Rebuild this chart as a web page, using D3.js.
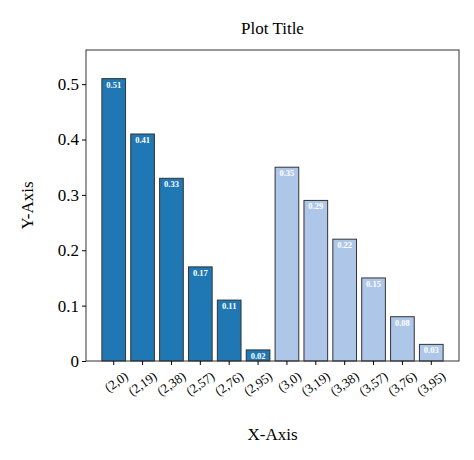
<!DOCTYPE html>
<html><head><meta charset="utf-8">
<script src="https://cdn.jsdelivr.net/npm/d3@7"></script>
<style>body{margin:0;background:#fff}text{font-family:"Liberation Serif",serif}</style>
</head><body><svg id="chart" width="474" height="460"></svg>
<script>
var categories = ["(2,0)","(2,19)","(2,38)","(2,57)","(2,76)","(2,95)","(3,0)","(3,19)","(3,38)","(3,57)","(3,76)","(3,95)"];
var values = [0.51,0.41,0.33,0.17,0.11,0.02,0.35,0.29,0.22,0.15,0.08,0.03];
var groups = ["2","2","2","2","2","2","3","3","3","3","3","3"];
var yTicks = [0,0.1,0.2,0.3,0.4,0.5];

var svg = d3.select("#chart");
var mLeft = 86, mRight = 459, mTop = 50, mBottom = 361;

var x = d3.scaleBand().domain(categories).range([mLeft, mRight]).paddingInner(0.18).paddingOuter(0.55);
var y = d3.scaleLinear().domain([0, 0.5617]).range([mBottom, mTop]);
var color = d3.scaleOrdinal().domain(["2","3"]).range(["#1f77b4","#aec7e8"]);

// bars
svg.selectAll("rect.bar").data(values).enter().append("rect")
    .attr("x", function(d, i){ return x(categories[i]); })
    .attr("y", function(d){ return y(d); })
    .attr("width", x.bandwidth())
    .attr("height", function(d){ return mBottom - y(d); })
    .attr("fill", function(d, i){ return color(groups[i]); })
    .attr("stroke", "#333").attr("stroke-width", 1);

// value labels
svg.selectAll("text.val").data(values).enter().append("text")
    .attr("x", function(d, i){ return x(categories[i]) + x.bandwidth()/2; })
    .attr("y", function(d){ return y(d) + 9; })
    .attr("text-anchor", "middle").attr("font-size", "8.5px").attr("font-weight", "bold")
    .attr("fill", "white")
    .text(function(d){ return d.toFixed(2); });

// frame
svg.append("rect").attr("x", mLeft).attr("y", mTop).attr("width", mRight-mLeft).attr("height", mBottom-mTop)
    .attr("fill", "none").attr("stroke", "#333").attr("stroke-width", 1);

// y axis
var ya = svg.append("g").attr("transform", "translate(" + mLeft + ",0)")
    .call(d3.axisLeft(y).tickValues(yTicks).tickSize(4).tickFormat(function(d){ return d === 0 ? "0" : d3.format(".1f")(d); }));
ya.select(".domain").remove();
ya.selectAll("text").attr("font-size", "17px").attr("fill", "#000").attr("font-family", "Liberation Serif");

// x axis
var xa = svg.append("g").attr("transform", "translate(0," + mBottom + ")")
    .call(d3.axisBottom(x).tickSize(4));
xa.select(".domain").remove();
xa.selectAll("text").attr("font-size", "13px").attr("fill", "#000").attr("font-family", "Liberation Serif")
    .attr("text-anchor", "end").attr("transform", "translate(6,4) rotate(-35)").attr("dy", "0.71em");

svg.append("text").attr("x", (mLeft+mRight)/2).attr("y", 34).attr("text-anchor", "middle")
    .attr("font-size", "17px").text("Plot Title");
svg.append("text").attr("x", (mLeft+mRight)/2).attr("y", 440).attr("text-anchor", "middle")
    .attr("font-size", "17px").text("X-Axis");
svg.append("text").attr("transform", "translate(33," + (mTop+mBottom)/2 + ") rotate(-90)")
    .attr("text-anchor", "middle").attr("font-size", "17px").text("Y-Axis");
</script></body></html>
